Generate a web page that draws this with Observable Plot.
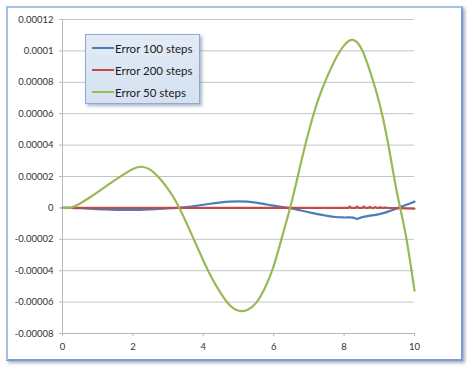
<!DOCTYPE html>
<html>
<head>
<meta charset="utf-8">
<script src="https://cdn.jsdelivr.net/npm/d3@7"></script>
<script src="https://cdn.jsdelivr.net/npm/@observablehq/plot@0.6"></script>
<style>
  html, body { margin: 0; padding: 0; background: #ffffff; }
  #wrap { position: relative; width: 474px; height: 372px; overflow: hidden; font-family: Lato, "Liberation Sans", sans-serif; }
  #frame { position: absolute; left: 6px; top: 6px; width: 453px; height: 351px;
    border: 2px solid #a7c1e6; border-right-color: #7d9bd0; border-bottom-color: #7d9bd0;
    background: #ffffff; box-shadow: 2px 2px 3px rgba(90,110,150,0.55); }
  #chart { position: absolute; left: 0; top: 0; }
  #legend { position: absolute; left: 85px; top: 34px; width: 113px; height: 68px;
    border: 1px solid #8fa9cf; background: linear-gradient(#e3ebf6, #d5e1f1);
    box-shadow: 2px 2px 3px rgba(90,110,150,0.5); }
  .row { position: absolute; left: 0; height: 14px; display: flex; align-items: center; font-size: 11.5px; color: #1a1a1a; white-space: nowrap; }
  .sw { width: 22px; height: 2px; margin-left: 6px; margin-right: 1px; }
</style>
</head>
<body>
<div id="wrap">
  <div id="frame"></div>
  <div id="chart"></div>
  <div id="legend"></div>
</div>
<script>
// x grid shared by the 50-step error series
const xGrid = [0,0.25,0.5,0.75,1,1.25,1.5,1.75,2,2.25,2.5,2.75,3,3.25,3.5,3.75,4,4.25,4.5,4.75,5,5.25,5.5,5.75,6,6.25,6.5,6.75,7,7.25,7.5,7.75,8,8.25,8.5,8.75,9,9.25,9.5,9.75,10];

// Error 50 steps (units of 1e-5)
const err50 = [0,0.02,0.28,0.63,1.0,1.4,1.78,2.15,2.48,2.62,2.42,1.9,1.2,0.3,-0.85,-2.1,-3.35,-4.5,-5.45,-6.2,-6.55,-6.5,-6.05,-5.1,-3.7,-1.75,0.3,2.65,4.9,6.8,8.25,9.45,10.35,10.7,10.1,8.6,6.7,4.1,1.0,-1.7,-5.27];

// Error 100 steps (units of 1e-6), with the kink near x = 8.37
const x100 = [0,0.25,0.5,0.75,1,1.25,1.5,1.75,2,2.25,2.5,2.75,3,3.25,3.5,3.75,4,4.25,4.5,4.75,5,5.25,5.5,5.75,6,6.25,6.5,6.75,7,7.25,7.5,7.75,8,8.25,8.37,8.5,8.75,9,9.25,9.5,9.75,10];
const err100 = [0,-0.05,-0.2,-0.45,-0.75,-1.0,-1.2,-1.3,-1.3,-1.2,-1.0,-0.7,-0.35,0,0.5,1.2,2.0,2.8,3.5,4.0,4.2,4.0,3.4,2.4,1.4,0.5,-0.3,-1.5,-2.8,-4.0,-5.0,-5.8,-6.1,-6.2,-7.0,-6.0,-4.9,-4.0,-2.4,-0.3,1.8,4.0];

// Error 200 steps (units of 1e-6), small wiggles after x = 8
const x200 = [0,1,2,3,4,5,6,7,8,8.12,8.16,8.2,8.33,8.37,8.41,8.52,8.56,8.6,8.69,8.73,8.77,8.85,8.89,8.93,8.99,9.03,9.07,9.14,9.18,9.22,9.5,9.75,10];
const err200 = [0,0,0,0,0,0,0,0,0,0,0.9,0,0,0.8,0,0,0.8,0,0,0.7,0,0,0.5,0,0,0.4,0,0,0.3,0,-0.2,-0.3,-0.4];

const yTicks = [-0.00008,-0.00006,-0.00004,-0.00002,0,0.00002,0.00004,0.00006,0.00008,0.0001,0.00012];
const xTicks = [0,2,4,6,8,10];

const seriesNames = ["Error 100 steps","Error 200 steps","Error 50 steps"];
const seriesColors = ["#4a7ebb","#be4b48","#98b954"];

const d100 = x100.map((x,i) => ({x, y: err100[i]*1e-6}));
const d200 = x200.map((x,i) => ({x, y: err200[i]*1e-6}));
const d50 = xGrid.map((x,i) => ({x, y: err50[i]*1e-5}));

const chart = Plot.plot({
  width: 474,
  height: 372,
  marginLeft: 62,
  marginRight: 60,
  marginTop: 19,
  marginBottom: 39,
  style: { background: "transparent", fontFamily: "Lato, 'Liberation Sans', sans-serif", fontSize: "9.5px", color: "#333" },
  x: { domain: [0, 10] },
  y: { domain: [-0.00008, 0.00012] },
  marks: [
    Plot.ruleY(yTicks.filter(d => d !== -0.00008), { stroke: "#c4c4c4", strokeWidth: 1, strokeOpacity: 1 }),
    Plot.ruleX([0], { stroke: "#b8b8b8", strokeWidth: 1 }),
    Plot.ruleY([-0.00008], { stroke: "#b8b8b8", strokeWidth: 1 }),
    Plot.axisY({ ticks: yTicks, tickFormat: d => String(d), tickSize: 3, tickPadding: 6, stroke: "#b8b8b8", label: null, fill: "#333" }),
    Plot.axisX({ ticks: xTicks, tickFormat: d => String(d), tickSize: 3, tickPadding: 7, stroke: "#b8b8b8", label: null, fill: "#333" }),
    Plot.line(d100, { x: "x", y: "y", stroke: seriesColors[0], strokeWidth: 2.2, curve: "catmull-rom" }),
    Plot.line(d200, { x: "x", y: "y", stroke: seriesColors[1], strokeWidth: 2.2, curve: "linear" }),
    Plot.line(d50, { x: "x", y: "y", stroke: seriesColors[2], strokeWidth: 2.2, curve: "natural" })
  ]
});
document.getElementById("chart").appendChild(chart);

const legend = document.getElementById("legend");
const rowTops = [6, 28, 50];
seriesNames.forEach((name, i) => {
  const row = document.createElement("div");
  row.className = "row";
  row.style.top = rowTops[i] + "px";
  const sw = document.createElement("div");
  sw.className = "sw";
  sw.style.background = seriesColors[i];
  const t = document.createElement("span");
  t.textContent = name;
  row.appendChild(sw);
  row.appendChild(t);
  legend.appendChild(row);
});
</script>
</body>
</html>
